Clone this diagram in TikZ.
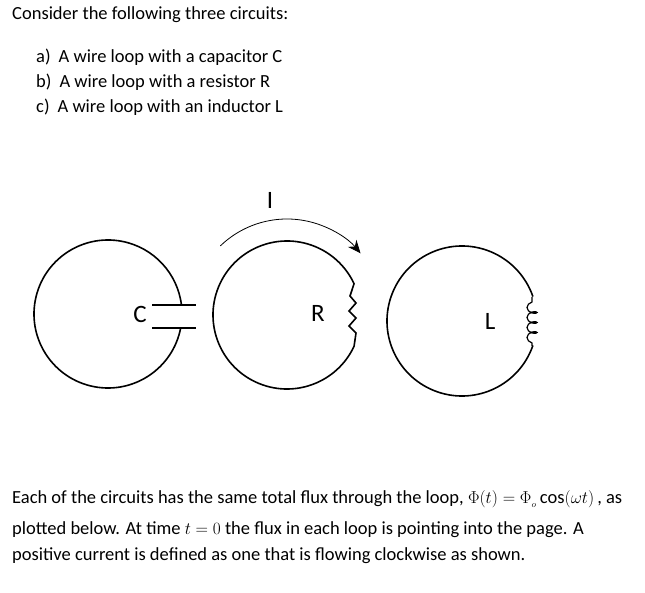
\documentclass[tikz,border=0pt]{standalone}
\usepackage{fontspec}
\setmainfont{Carlito}
\usetikzlibrary{arrows.meta,decorations.pathmorphing}
\begin{document}
\begin{tikzpicture}[x=1pt,y=-1pt,
  wire/.style={line width=1.6pt},
  txt/.style={anchor=west,inner sep=0,font=\fontsize{18.5}{21}\selectfont},
  lbl/.style={inner sep=0,font=\fontsize{25}{27}\selectfont}]
\useasboundingbox[fill=white] (0,0) rectangle (645,593);
\node[txt] (t0) at (12,15) {Consider the following three circuits:};
\node[txt] (ta) at (36,57) {a)\hspace{8pt}A wire loop with a capacitor C};
\node[txt] (tb) at (36,82) {b)\hspace{8pt}A wire loop with a resistor R};
\node[txt] (tc) at (36,107) {c)\hspace{8pt}A wire loop with an inductor L};
% circuit A
\draw[wire] (108,314) ++(11:74) arc[start angle=11,end angle=353,radius=74];
\draw[wire] (152,305) -- (196,305);
\draw[wire] (152,328) -- (196,328);
\node[lbl] (C) at (140,314) {C};
% circuit B
\draw[wire,line join=miter] (287,315) ++(25:74) arc[start angle=25,end angle=335,radius=74]
  -- (350,296) -- (356,303) -- (349,311) -- (356,318) -- (349,326) -- (356,333) -- cycle;
\node[lbl] (R) at (318,313) {R};
\draw[line width=0.8pt,-{Stealth[length=13pt,width=11pt]}] (287,315) ++(-134:96) arc[start angle=-134,end angle=-40,radius=96];
\node[lbl] (I) at (270,200) {I};
% circuit C
\coordinate (l1) at (532,297);
\coordinate (l2) at (532,346);
\draw[wire] (462,321) ++(19:75) arc[start angle=19,end angle=341,radius=75];
\draw[line width=1.2pt,decorate,decoration={coil,aspect=0.6,segment length=10pt,amplitude=5pt,pre length=3pt,post length=3pt}] (l2) -- (l1);
\node[lbl] (L) at (490,321) {L};
\node[txt] (p1) at (12,499) {Each of the circuits has the same total flux through the loop, $\Phi(t)=\Phi_{_o}\cos(\omega t)$\,, as};
\node[txt] (p2) at (12,530) {plotted below. At time $t=0$ the flux in each loop is pointing into the page. A};
\node[txt] (p3) at (12,556) {positive current is defined as one that is flowing clockwise as shown.};
\end{tikzpicture}
\end{document}
